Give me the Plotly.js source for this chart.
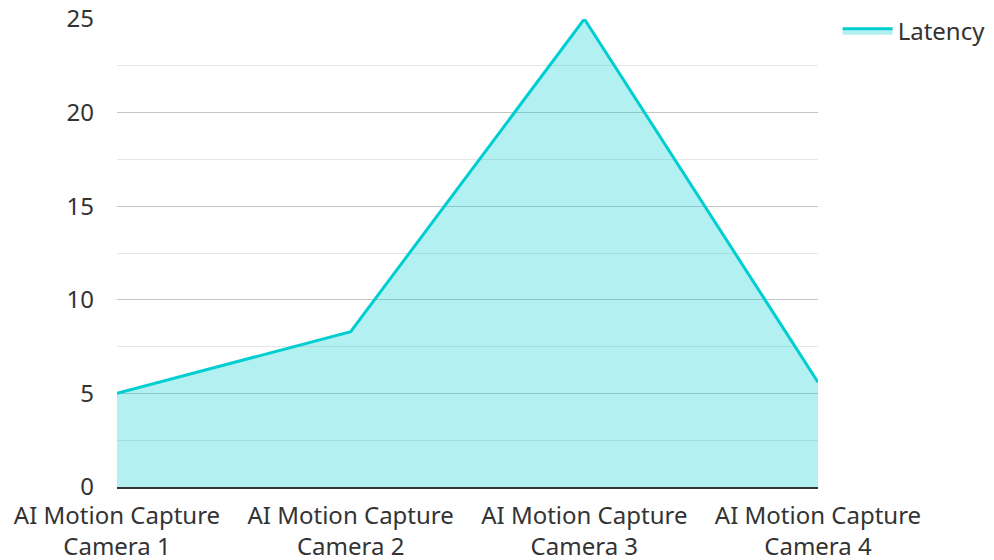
<!DOCTYPE html>
<html>
<head>
<meta charset="utf-8">
<script src="https://cdn.plot.ly/plotly-3.0.1.min.js"></script>
<style>html,body{margin:0;padding:0;background:#fff;}#chart{width:994px;height:560px;}</style>
</head>
<body>
<div id="chart"></div>
<script>
const categories = ["AI Motion Capture<br>Camera 1", "AI Motion Capture<br>Camera 2", "AI Motion Capture<br>Camera 3", "AI Motion Capture<br>Camera 4"];
const latency = [5, 8.3, 25, 5.6];
const yTicks = [0, 5, 10, 15, 20, 25];

const trace = {
  x: categories,
  y: latency,
  type: 'scatter',
  mode: 'lines',
  name: 'Latency',
  fill: 'tozeroy',
  fillcolor: 'rgba(0,206,209,0.3)',
  line: {color: '#00CED1', width: 3}
};

const layout = {
  width: 994, height: 560,
  margin: {l: 117, r: 176, t: 19, b: 73, autoexpand: false},
  paper_bgcolor: '#fff', plot_bgcolor: '#fff',
  font: {family: 'Noto Sans, Open Sans, sans-serif', size: 24, color: '#333'},
  showlegend: true,
  legend: {x: 1.028, xanchor: 'left', y: 1.022, yanchor: 'top', itemwidth: 50, font: {size: 24, color: '#333'}},
  xaxis: {
    type: 'category',
    range: [0, 3],
    showgrid: false,
    showline: true, linecolor: '#333', linewidth: 2,
    ticks: '', zeroline: false, automargin: false,
    ticklabelstandoff: 6,
    tickfont: {size: 24}
  },
  yaxis: {
    range: [0, 25],
    tickvals: yTicks,
    showgrid: true, gridcolor: '#c4c4c4', gridwidth: 1,
    minor: {dtick: 2.5, showgrid: true, gridcolor: '#e6e6e6', gridwidth: 1},
    zeroline: false, showline: false, automargin: false,
    ticklabelstandoff: 22
  }
};

Plotly.newPlot('chart', [trace], layout, {displayModeBar: false, staticPlot: true});
</script>
</body>
</html>
